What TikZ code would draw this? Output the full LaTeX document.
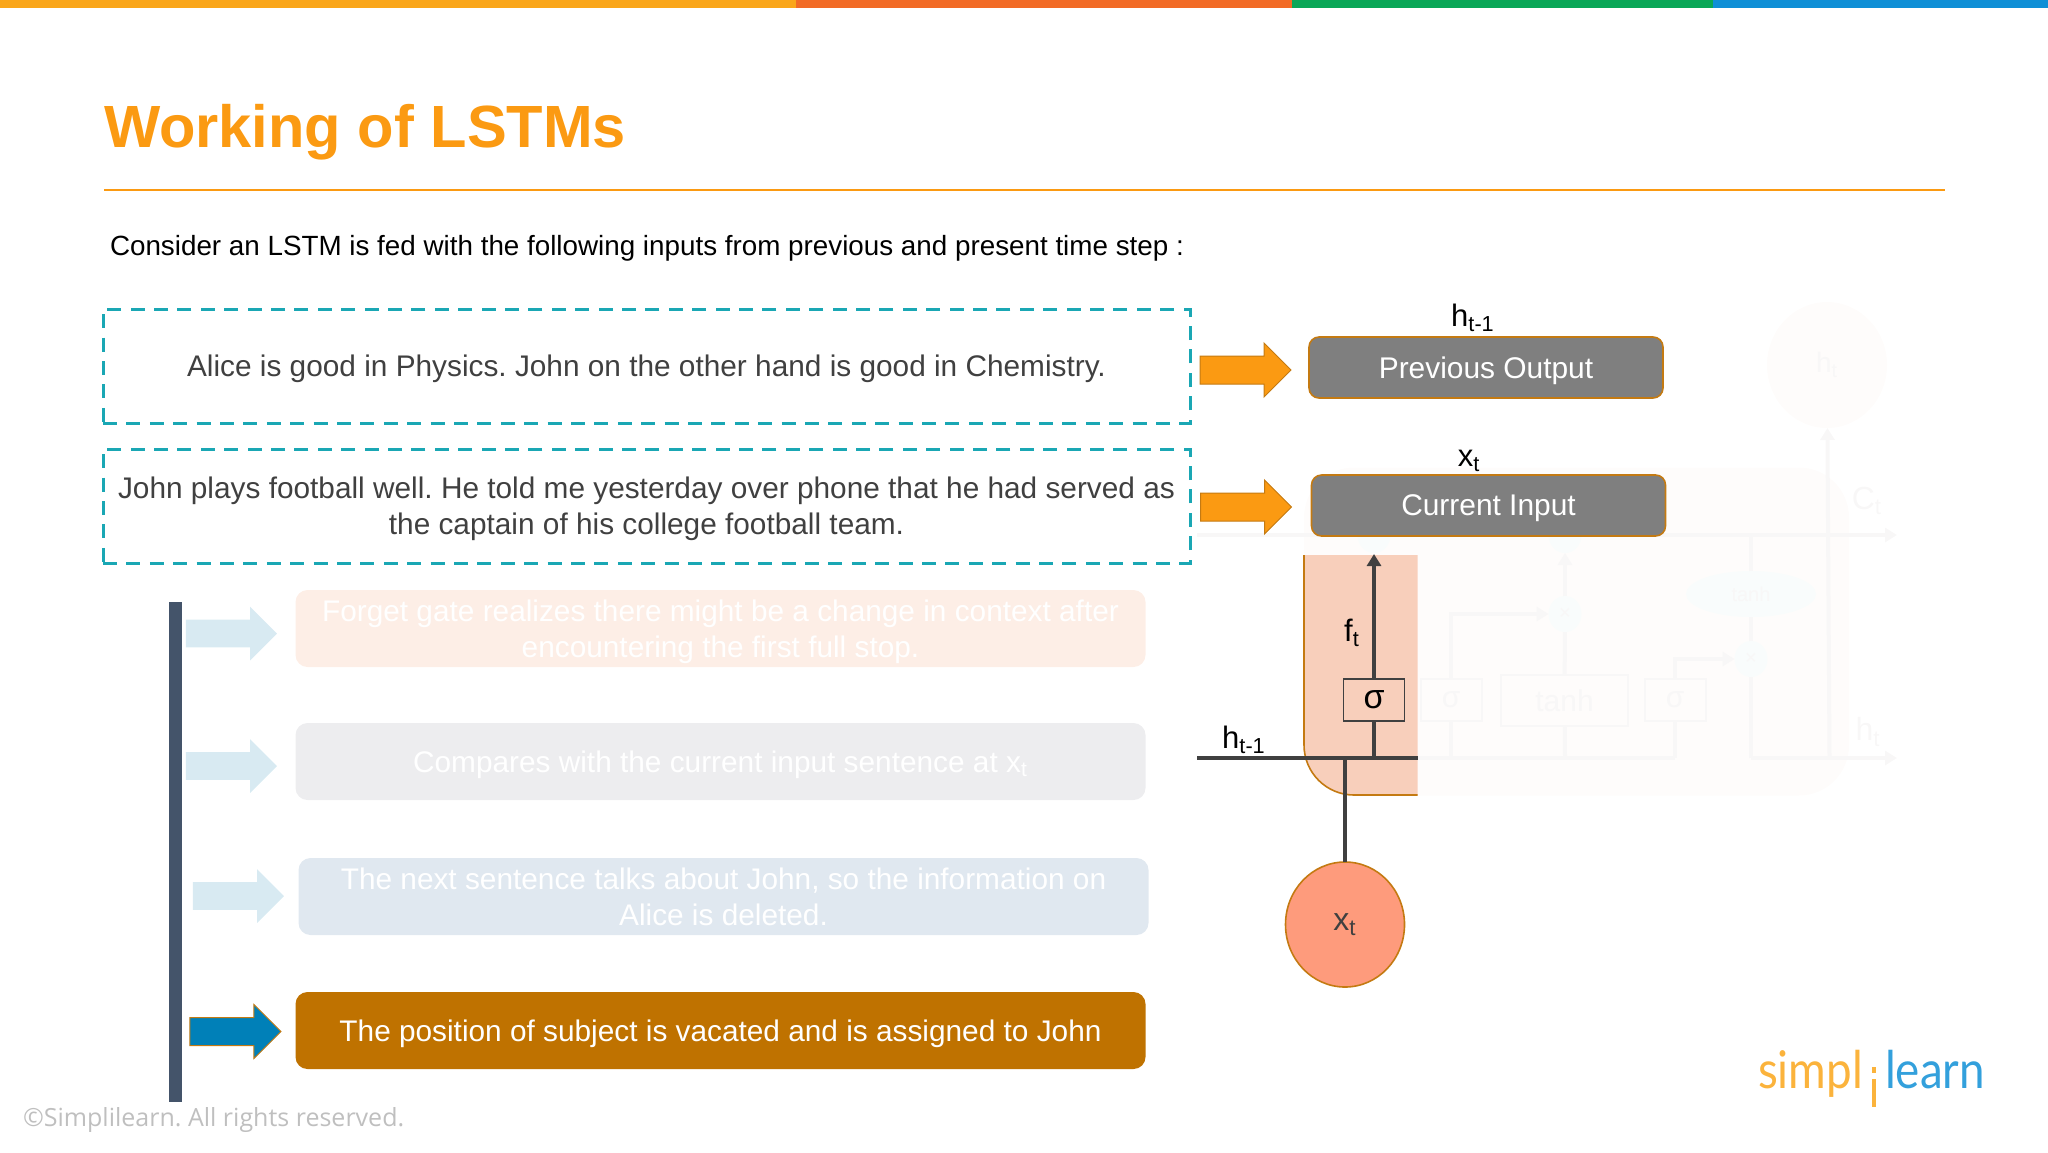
\documentclass[tikz,border=0pt]{standalone}
\usepackage{fontspec}
\setmainfont{Liberation Sans}
\newfontfamily\footfont{Open Sans}
\newfontfamily\logofont{Lato}
\usetikzlibrary{arrows.meta,positioning,shapes.arrows,shapes.geometric}
\definecolor{lstmorange}{HTML}{FB9A12}
\definecolor{baryellow}{HTML}{FAA61A}
\definecolor{barred}{HTML}{F26B26}
\definecolor{bargreen}{HTML}{0AA757}
\definecolor{barblue}{HTML}{0F8FD6}
\definecolor{dashteal}{HTML}{1AA7B4}
\definecolor{greybox}{HTML}{7F7F7F}
\definecolor{boxedge}{HTML}{C47A12}
\definecolor{cellpink}{HTML}{F8CFBB}
\definecolor{cellfaint}{HTML}{FEFCFB}
\definecolor{wirefaint}{HTML}{F8F7F7}
\definecolor{knotfaint}{HTML}{F9FCFC}
\definecolor{wiredark}{HTML}{404040}
\definecolor{circlesalmon}{HTML}{FE9B7C}
\definecolor{barslate}{HTML}{44546A}
\definecolor{palearrowblue}{HTML}{D8EAF2}
\definecolor{forgetfill}{HTML}{FDEEE6}
\definecolor{comparefill}{HTML}{EDEDEF}
\definecolor{deletefill}{HTML}{E0E8F0}
\definecolor{vacantfill}{HTML}{BF7200}
\definecolor{vacantarrowblue}{HTML}{0080B8}
\begin{document}
\frenchspacing
\begin{tikzpicture}
  [
    x=0.5pt,y=-0.5pt,
    every node/.style={inner sep=0pt,outer sep=0pt},
    dashbox/.style={rectangle,draw=dashteal,line width=1.5pt,dash pattern=on 7pt off 4.7pt,minimum width=543.5pt,minimum height=57pt,align=center,text=black!75,text depth=0pt,font=\fontsize{14.9}{18}\selectfont},
    inputbox/.style={rectangle,draw=boxedge,fill=greybox,line width=0.8pt,rounded corners=5pt,minimum width=177pt,minimum height=30.5pt,text=white,text depth=0pt,font=\fontsize{14.95}{18}\selectfont},
    stepbox/.style={rectangle,rounded corners=6pt,minimum width=425pt,minimum height=38.5pt,align=center,text=white,text depth=0pt,font=\fontsize{14.9}{18}\selectfont},
    bigarrow/.style={single arrow,inner xsep=0pt,inner ysep=6.75pt,single arrow head extend=6.5pt,single arrow head indent=0pt,minimum height=45.5pt,shape border rotate=0},
    orangearrow/.style={bigarrow,fill=lstmorange,draw=boxedge,line width=0.5pt},
    palearrow/.style={bigarrow,fill=palearrowblue,draw=none},
    faintwire/.style={draw=wirefaint,line width=2pt},
    faintbox/.style={rectangle,draw=wirefaint,line width=1pt,fill=cellfaint,text=wirefaint,font=\fontsize{15}{18}\selectfont},
    faintknot/.style={ellipse,fill=knotfaint,minimum width=16.5pt,minimum height=18pt,text=wirefaint},
    darkwire/.style={draw=wiredark,line width=2.2pt},
    labeltext/.style={text=black,font=\fontsize{15.5}{18}\selectfont}
  ]
  \useasboundingbox (0,0) rectangle (2048,1152);

  \fill[baryellow] (0,0) rectangle (796,8);
  \fill[barred] (796,0) rectangle (1292,8);
  \fill[bargreen] (1292,0) rectangle (1713,8);
  \fill[barblue] (1713,0) rectangle (2048,8);

  \node[anchor=base west,text=lstmorange,font=\fontsize{29.8}{32}\selectfont\bfseries] (title) at (104,147.5) {Working of LSTMs};
  \coordinate (ruleleft) at (104,190);
  \coordinate (ruleright) at (1945,190);
  \draw[lstmorange,line width=0.7pt] (ruleleft) -- (ruleright);
  \node[anchor=west,text=black,font=\fontsize{13.9}{18}\selectfont] (intro) at (110,248) {Consider an LSTM is fed with the following inputs from previous and present time step :};

  \node[dashbox] (contextbox) at (646.5,366) {Alice is good in Physics. John on the other hand is good in Chemistry.};
  \node[dashbox] (sentencebox) at (646.5,506) {John plays football well. He told me yesterday over phone that he had served as\\the captain of his college football team.};

  % faded cell
  \fill[cellfaint,rounded corners=25pt] (1304,467.5) rectangle (1849,795.5);
  \coordinate (cleft) at (1197,535);
  \coordinate (cright) at (1897,535);
  \coordinate (hrightstart) at (1751,758);
  \coordinate (hright) at (1897,758);
  \coordinate (houtjoin) at (1829.5,758);
  \coordinate (hmid) at (1675,758);
  \draw[faintwire,-{Triangle[length=6pt,width=7pt]}] (cleft) -- (cright);
  \draw[faintwire,-{Triangle[length=6pt,width=7pt]}] (hrightstart) -- (hright);
  \draw[faintwire] (1417,758) -- (hmid);
  \node[faintbox,minimum width=30.5pt,minimum height=21pt] (sigmatwo) at (1451,700) {σ};
  \node[faintbox,minimum width=63.5pt,minimum height=25.5pt] (tanhbox) at (1564.5,700.5) {tanh};
  \node[faintbox,minimum width=30.5pt,minimum height=21pt] (sigmathree) at (1675,700) {σ};
  \node[faintknot] (multone) at (1565,614) {×};
  \node[faintknot] (multtwo) at (1751,659) {×};
  \node[faintknot,minimum width=65pt,minimum height=23pt] (tanhknot) at (1751,594) {tanh};
  \node[faintknot] (addone) at (1565,535) {};
  \node[faintknot] (forgetknot) at (1374,535) {};
  \node[ellipse,fill=cellfaint,minimum width=60pt,minimum height=63pt,text=wirefaint,font=\fontsize{14}{16}\selectfont] (hout) at (1827,365) {h\textsubscript{t}};
  \draw[faintwire] (sigmatwo) -- (1451,758);
  \draw[faintwire] (tanhbox) -- (1565,758);
  \draw[faintwire] (sigmathree) -- (hmid);
  \draw[faintwire,-{Triangle[length=6pt,width=7pt]}] (sigmatwo) |- (multone);
  \draw[faintwire] (tanhbox) -- (multone);
  \draw[faintwire,-{Triangle[length=6pt,width=7pt]}] (multone) -- (addone);
  \draw[faintwire,-{Triangle[length=6pt,width=7pt]}] (sigmathree) |- (multtwo);
  \draw[faintwire] (hrightstart) -- (multtwo);
  \draw[faintwire] (multtwo) -- (tanhknot);
  \draw[faintwire] (tanhknot) -- (1751,535);
  \draw[faintwire,-{Triangle[length=6pt,width=7pt]}] (houtjoin) -- (hout);
  \node[text=wirefaint,font=\fontsize{16}{18}\selectfont] (clabel) at (1867,501) {C\textsubscript{t}};
  \node[text=wirefaint,font=\fontsize{16}{18}\selectfont] (hlabel) at (1868,732) {h\textsubscript{t}};

  % highlighted part
  \fill[cellpink] (1304,555) [rounded corners=25pt] -- (1304,795) [sharp corners] -- (1417.5,795) -- (1417.5,555) -- cycle;
  \draw[boxedge,line width=0.8pt] (1304,555) [rounded corners=25pt] -- (1304,795) [sharp corners] -- (1417.5,795);

  \node[inputbox] (prevbox) at (1486,367.5) {Previous Output};
  \node[inputbox] (currbox) at (1488.5,505.5) {Current Input};
  \node[orangearrow] (prevarrow) [left = 9pt of prevbox,yshift=-1.25pt] {};
  \node[orangearrow] (currarrow) [left = 10pt of currbox,yshift=-0.75pt] {};
  \node[labeltext] (prevlabel) at (1473,318) {h\textsubscript{t-1}};
  \node[labeltext] (currlabel) at (1469,461) {x\textsubscript{t}};

  \node[rectangle,draw=wiredark,line width=0.8pt,minimum width=30.5pt,minimum height=21pt,text=black,font=\fontsize{17}{18}\selectfont] (sigmaone) at (1374,700) {σ};
  \node[ellipse,draw=boxedge,fill=circlesalmon,line width=0.8pt,minimum width=59.5pt,minimum height=62.5pt,text=wiredark,font=\fontsize{16}{18}\selectfont] (xtnode) at (1345,924.5) {x\textsubscript{t}};
  \coordinate (hleft) at (1197,758);
  \coordinate (hend) at (1417.5,758);
  \coordinate (hjoin) at (1345,758);
  \coordinate (hsigma) at (1374,758);
  \coordinate (ftip) at (1374,554);
  \draw[darkwire] (hleft) -- (hend);
  \draw[darkwire] (xtnode) -- (hjoin);
  \draw[darkwire] (hsigma) -- (sigmaone);
  \draw[darkwire,-{Triangle[length=6pt,width=7pt]}] (sigmaone) -- (ftip);
  \node[labeltext] (ftlabel) at (1352,633) {f\textsubscript{t}};
  \node[labeltext] (hlabeldark) at (1244,740) {h\textsubscript{t-1}};

  % steps
  \fill[barslate] (169,602) rectangle (182,1102);
  \node[stepbox,fill=forgetfill] (forgetbox) at (720.5,628.5) {Forget gate realizes there might be a change in context after\\encountering the first full stop.};
  \node[stepbox,fill=comparefill] (comparebox) at (720.5,761.5) {Compares with the current input sentence at x\textsubscript{t}};
  \node[stepbox,fill=deletefill] (deletebox) at (723.5,896.5) {The next sentence talks about John, so the information on\\Alice is deleted.};
  \node[stepbox,fill=vacantfill] (vacantbox) at (720.5,1030.5) {The position of subject is vacated and is assigned to John};
  \node[palearrow,anchor=east] (forgetarrow) at (277,633.5) {};
  \node[palearrow,anchor=east] (comparearrow) at (277,766) {};
  \node[palearrow,anchor=east] (deletearrow) at (284,896) {};
  \node[bigarrow,anchor=east,fill=vacantarrowblue,draw=boxedge,line width=0.5pt] (vacantarrow) at (281,1031.5) {};

  \node[anchor=west,text=black!25,font=\footfont\fontsize{12.5}{15}\selectfont] (footer) at (23,1120) {©Simplilearn. All rights reserved.};

  \node[anchor=base west,text=baryellow!85!white,font=\logofont\fontsize{26}{28}\selectfont] (logoleft) at (1758,1088) {\scalebox{.88}[1]{simpl}};
  \node[anchor=base east,text=barblue!85!white,font=\logofont\fontsize{26}{28}\selectfont] (logoright) at (1985,1088) {\scalebox{.88}[1]{learn}};
  \fill[baryellow!85!white] (1872,1067) rectangle (1876,1073);
  \fill[baryellow!85!white] (1872,1079) rectangle (1876,1107);
\end{tikzpicture}
\end{document}
